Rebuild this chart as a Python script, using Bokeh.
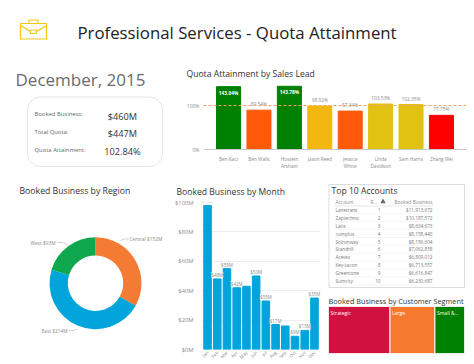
from bokeh.plotting import figure
from bokeh.layouts import column, row
from bokeh.models import FactorRange, Range1d, Span, FixedTicker, BoxAnnotation, ColumnDataSource
from bokeh.core.properties import value
from bokeh.embed import file_html
from bokeh.resources import INLINE
import numpy as np

FONT = "Open Sans"
GREY = "#8a8a8a"
DARK = "#333333"

kpi_names = ["Booked Business:", "Total Quota:", "Quota Attainment:"]
kpi_values = ["$460M", "$447M", "102.84%"]

leads = ["Ben Katz", "Ben Walls", "Hossein\nArsham", "Jason Reed", "Jessica\nWhite", "Linda\nDavidson", "Sam Harris", "Zhang Wei"]
attain = [143.04, 89.54, 143.78, 98.92, 87.34, 103.53, 102.35, 77.75]
attain_colors = ["#008000", "#FF5A0A", "#008000", "#F2B80F", "#FF5A0A", "#E1C112", "#E1C112", "#FF0000"]

regions = ["Central", "East", "West"]
region_vals = [152, 214, 93]
region_colors = ["#F47B33", "#01A5DB", "#0FA84F"]

months = ["Jan", "Feb", "Mar", "Apr", "May", "Jun", "Jul", "Aug", "Sep", "Oct", "Nov", "Dec"]
month_vals = [98, 48, 55, 42, 43, 50, 33, 17, 16, 9, 13, 35]
month_labels = ["$98M", "$48M", "$55M", "$42M", "", "$50M", "$33M", "$17M", "", "$9M", "$13M", "$35M"]

accounts = ["Lanetrans", "Zaptechno", "Latis", "cumplus", "Solronway", "Standrill", "Acetex", "Key-tacon", "Greentone", "Sumcity"]
ranks = ["1", "2", "3", "4", "5", "6", "7", "8", "9", "10"]
booked = ["$11,913,672", "$10,187,572", "$8,604,673", "$8,158,440", "$8,156,604", "$7,062,858", "$6,809,012", "$6,713,557", "$6,616,847", "$6,230,687"]

segments = ["Strategic", "Large", "Small &..."]
segment_vals = [208, 152, 100]
segment_colors = ["#D1113F", "#F57A2E", "#008000"]


def canvas(x0, y0, x1, y1):
    """Figure whose data coordinates are page pixels."""
    p = figure(width=x1 - x0, height=y1 - y0, x_range=Range1d(x0, x1), y_range=Range1d(y1, y0),
               toolbar_location=None, output_backend="svg", min_border=0)
    p.axis.visible = False
    p.grid.visible = False
    p.outline_line_color = None
    return p


def txt(p, x, y, s, size, color=DARK, align="left", baseline="middle", **kw):
    p.text([x], [y], text=[s], text_font=value(FONT), text_font_size=f"{size}px", text_color=color,
           text_align=align, text_baseline=baseline, **kw)


# ---------- header
head = canvas(0, 0, 474, 60)
ic = "#F2C811"
head.multi_line([[20, 46, 46, 20, 20], [28.5, 28.5, 37.5, 37.5], [20, 30], [36, 46], [30, 36, 36, 30, 30]],
                [[23, 23, 38.5, 38.5, 23], [23, 19.5, 19.5, 23], [25, 31], [31, 25], [29.5, 29.5, 33, 33, 29.5]],
                line_color=ic, line_width=1.2)
txt(head, 77, 31.5, "Professional Services - Quota Attainment", 16.8, "#222222")

# ---------- date + KPI card
card = canvas(0, 60, 172, 176)
txt(card, 15, 79, "December, 2015", 17, "#6b6b6b")
card.add_layout(BoxAnnotation(left=27, right=162, top=96.5, bottom=166, fill_color=None, line_color="#a8a8a8",
                              line_width=1, border_radius=13))
for i, (n, v) in enumerate(zip(kpi_names, kpi_values)):
    yy = 113.5 + i * 17.8
    txt(card, 34, yy, n, 5.9, "#666666")
    txt(card, 122, yy + 2, v, 9.2, "#333333", align="center")

# ---------- quota bars
q = figure(width=302, height=116, x_range=FactorRange(factors=leads, range_padding=0.081),
           y_range=Range1d(0, 157), toolbar_location=None, output_backend="svg",
           min_border_left=31, min_border_right=8, min_border_top=20, min_border_bottom=27)
q.title.text = "Quota Attainment by Sales Lead"
q.title.text_font = FONT
q.title.text_font_size = "8.6px"
q.title.text_font_style = "normal"
q.title.text_color = "#333333"
q.title.offset = -17
q.title.standoff = 2
q.outline_line_color = None
q.grid.visible = False
qs = ColumnDataSource(dict(x=leads, top=attain, c=attain_colors))
q.vbar(x="x", top="top", width=0.79, color="c", source=qs)
q.add_layout(Span(location=100, dimension="width", line_color="#F2A36B", line_dash="3 2", line_width=1))
inside = [i for i, v in enumerate(attain) if v > 120]
outside = [i for i, v in enumerate(attain) if v <= 120]
q.text([leads[i] for i in inside], [attain[i] for i in inside], text=[f"{attain[i]:.2f}%" for i in inside],
       text_color="white", text_font=value(FONT), text_font_size="4.8px", text_font_style="bold",
       text_align="center", text_baseline="top", y_offset=3)
q.text([leads[i] for i in outside], [attain[i] for i in outside], text=[f"{attain[i]:.2f}%" for i in outside],
       text_color=GREY, text_font=value(FONT), text_font_size="4.8px",
       text_align="center", text_baseline="bottom", y_offset=-3)
q.yaxis.ticker = FixedTicker(ticks=[0, 100])
q.yaxis.major_label_overrides = {0: "0%", 100: "100%"}
q.yaxis.axis_line_color = None
q.yaxis.major_label_text_font = FONT
q.yaxis.major_label_text_font_size = "5px"
q.yaxis.major_label_text_color = GREY
q.yaxis.major_label_standoff = 4
q.xaxis.axis_line_color = "#c8c8c8"
q.xaxis.major_label_text_font = FONT
q.xaxis.major_label_text_font_size = "4.7px"
q.xaxis.major_label_text_color = GREY
q.xaxis.major_label_standoff = 6

# ---------- donut
d = canvas(0, 176, 172, 364)
txt(d, 19, 190, "Booked Business by Region", 8.7, "#333333")
vals = np.array(region_vals, dtype=float)
edges = np.concatenate([[0], np.cumsum(vals)]) / vals.sum() * 2 * np.pi
d.annular_wedge(x=95, y=282.7, inner_radius=27.7, outer_radius=46, start_angle=np.pi / 2 - edges[:-1],
                end_angle=np.pi / 2 - edges[1:], direction="clock",
                color=region_colors, line_color=None)
lab = [f"{r} ${v}M" for r, v in zip(regions, region_vals)]
txt(d, 129, 238.5, lab[0], 4.8, GREY)
txt(d, 67, 330, lab[1], 4.8, GREY, align="right")
txt(d, 55, 242, lab[2], 4.8, GREY, align="right")
d.multi_line([[120, 124, 128], [68, 73, 77], [57, 63, 68]], [[240, 238.5, 238.5], [330, 330, 328.5], [242, 242, 245]],
             line_color="#bbbbbb", line_width=0.7)

# ---------- monthly bars
m = figure(width=154, height=188, x_range=FactorRange(factors=months, range_padding=0.02),
           y_range=Range1d(0, 100), toolbar_location=None, output_backend="svg",
           min_border_left=29, min_border_right=6, min_border_top=26, min_border_bottom=13)
m.title.text = "Booked Business by Month"
m.title.text_font = FONT
m.title.text_font_size = "8.6px"
m.title.text_font_style = "normal"
m.title.text_color = "#333333"
m.title.offset = -25
m.title.standoff = 10
m.outline_line_color = None
m.xgrid.visible = False
m.ygrid.grid_line_color = "#efefef"
m.ygrid.ticker = FixedTicker(ticks=[0, 20, 40, 60, 80, 100])
m.vbar(x=months, top=month_vals, width=0.78, color="#01A5DB")
halo = {"$48M", "$42M", "$33M", "$17M", "$13M"}
ix_h = [i for i, l in enumerate(month_labels) if l in halo]
ix_p = [i for i, l in enumerate(month_labels) if l and l not in halo]
m.text([months[i] for i in ix_p], [month_vals[i] for i in ix_p], text=[month_labels[i] for i in ix_p],
       text_color=GREY, text_font=value(FONT), text_font_size="4.5px", text_align="center",
       text_baseline="bottom", y_offset=-1)
m.text([months[i] for i in ix_h], [month_vals[i] for i in ix_h], text=[month_labels[i] for i in ix_h],
       text_color=GREY, text_font=value(FONT), text_font_size="4.5px", text_align="center",
       text_baseline="bottom", y_offset=-1, background_fill_color="white")
m.yaxis.ticker = FixedTicker(ticks=[0, 20, 40, 60, 80, 100])
m.yaxis.major_label_overrides = {v: f"${v}M" for v in [0, 20, 40, 60, 80, 100]}
m.yaxis.axis_line_color = None
m.yaxis.major_label_text_font = FONT
m.yaxis.major_label_text_font_size = "5.8px"
m.yaxis.major_label_text_color = GREY
m.yaxis.major_label_standoff = 8
m.xaxis.axis_line_color = None
m.xaxis.major_label_orientation = 0.785
m.xaxis.major_label_text_font = FONT
m.xaxis.major_label_text_font_size = "4.5px"
m.xaxis.major_label_text_color = GREY
m.xaxis.major_label_standoff = 2

for ax in [q.xaxis, q.yaxis, m.xaxis, m.yaxis]:
    ax.major_tick_line_color = None
    ax.minor_tick_line_color = None
    ax.major_tick_out = 0
    ax.major_tick_in = 0
    ax.minor_tick_out = 0
    ax.minor_tick_in = 0

# ---------- table
t = canvas(326, 176, 474, 292)
t.add_layout(BoxAnnotation(left=328.5, right=464, top=184, bottom=287, fill_color=None, line_color="#8f8f8f", line_width=1))
txt(t, 331, 190, "Top 10 Accounts", 8.6, "#333333")
hy = 201.7
txt(t, 335, hy, "Account", 4.8, GREY)
txt(t, 370, hy, "R...", 4.8, GREY)
t.scatter([382.5], [hy - 0.5], marker="triangle", size=4, color="#666666")
txt(t, 432, hy, "Booked Business", 4.8, GREY, align="right")
t.segment(x0=[334], y0=[205.5], x1=[433], y1=[205.5], line_color="#dddddd", line_width=0.7)
row_y = [209.3 + 7.93 * i for i in range(len(accounts))]
t.text([335] * 10, row_y, text=accounts, text_color="#777777", text_font=value(FONT), text_font_size="4.7px",
       text_align="left", text_baseline="middle")
t.text([380] * 10, row_y, text=ranks, text_color="#777777", text_font=value(FONT), text_font_size="4.7px",
       text_align="right", text_baseline="middle")
t.text([432] * 10, row_y, text=booked, text_color="#777777", text_font=value(FONT), text_font_size="4.7px",
       text_align="right", text_baseline="middle")
t.segment(x0=[334] * 10, y0=[y + 3.9 for y in row_y], x1=[433] * 10, y1=[y + 3.9 for y in row_y],
          line_color="#eeeeee", line_width=0.6)

# ---------- treemap
tm = figure(width=148, height=72, x_range=Range1d(0, sum(segment_vals)), y_range=Range1d(0, 1),
            toolbar_location=None, output_backend="svg", min_border_left=2, min_border_right=10,
            min_border_top=14, min_border_bottom=11)
tm.axis.visible = False
tm.grid.visible = False
tm.outline_line_color = None
tm.title.text = "Booked Business by Customer Segment"
tm.title.text_font = FONT
tm.title.text_font_size = "7.3px"
tm.title.text_font_style = "normal"
tm.title.text_color = "#333333"
tm.title.offset = 0
tm.title.standoff = 2
sv = np.array(segment_vals, dtype=float)
left = np.concatenate([[0], np.cumsum(sv)[:-1]])
tm.quad(left=left, right=left + sv, bottom=0, top=1, color=segment_colors, line_color="white", line_width=1)
tm.text(left + 7, [1] * 3, text=segments, text_color="white", text_font=value(FONT), text_font_size="5px",
        text_align="left", text_baseline="top", y_offset=3)

layout = column(
    head,
    row(card, q, spacing=0),
    row(d, m, column(t, tm, spacing=0), spacing=0),
    spacing=0,
)
for f in [head, card, q, d, m, t, tm]:
    f.margin = 0
    f.frame_align = False
open("out.html", "w").write(file_html(layout, INLINE))
